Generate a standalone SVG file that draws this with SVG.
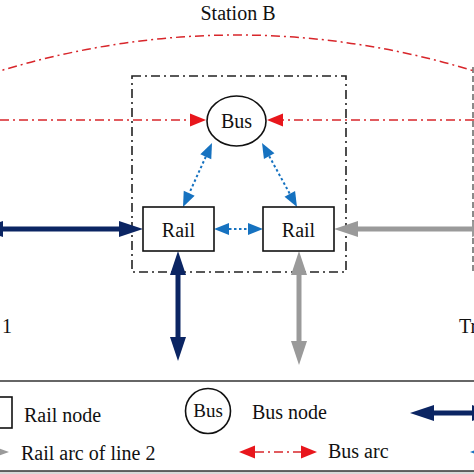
<svg xmlns="http://www.w3.org/2000/svg" width="474" height="474" viewBox="0 0 474 474">
<defs>
<style>
.node{fill:#fff;stroke:#111;stroke-width:1.6}
.navy{stroke:#0b2563;stroke-width:5;fill:none}
.gray{stroke:#9a9a9a;stroke-width:5;fill:none}
.blue{stroke:#1672c0;stroke-width:2;stroke-dasharray:2.5,2.5;fill:none}
.red{stroke:#d8262b;stroke-width:1.5;stroke-dasharray:9,4,2,4;fill:none}
.box{stroke:#222;stroke-width:1.6;stroke-dasharray:9,4,2,4;fill:none}
</style>
<marker id="mNavy" markerUnits="userSpaceOnUse" markerWidth="26" markerHeight="18" refX="0" refY="8" orient="auto-start-reverse" overflow="visible"><path d="M0,0 L24,8 L0,16 Z" fill="#0b2563"/></marker>
<marker id="mGray" markerUnits="userSpaceOnUse" markerWidth="26" markerHeight="18" refX="0" refY="8" orient="auto-start-reverse" overflow="visible"><path d="M0,0 L24,8 L0,16 Z" fill="#9a9a9a"/></marker>
<marker id="mBlue" markerUnits="userSpaceOnUse" markerWidth="16" markerHeight="12" refX="0" refY="6" orient="auto-start-reverse" overflow="visible"><path d="M0,0 L15,6 L0,12 Z" fill="#1672c0"/></marker>
<marker id="mRed" markerUnits="userSpaceOnUse" markerWidth="17" markerHeight="13" refX="0" refY="6.5" orient="auto-start-reverse" overflow="visible"><path d="M0,0 L16,6.5 L0,13 Z" fill="#e8161c"/></marker>
</defs>
<rect width="474" height="474" fill="#fff"/>
<g font-family="'Liberation Serif', 'Times New Roman', 'DejaVu Serif', serif" font-size="20" fill="#111">
<text x="238" y="19.5" text-anchor="middle">Station B</text>
<g id="station-box"><rect class="box" x="132" y="76" width="214" height="196"/></g>
<line x1="473" y1="67" x2="473" y2="273" stroke="#8a8a8a" stroke-width="2" stroke-dasharray="6,3"/>
<g id="connectors">
<path class="red" d="M-10,74 Q237,-4 484,74"/>
<line class="red" x1="0" y1="120" x2="190" y2="120" marker-end="url(#mRed)"/>
<line class="red" x1="474" y1="120" x2="283" y2="120" marker-end="url(#mRed)"/>
<line class="blue" x1="205.8" y1="156.7" x2="189.2" y2="193.3" marker-start="url(#mBlue)" marker-end="url(#mBlue)"/>
<line class="blue" x1="269.2" y1="156.2" x2="289.8" y2="193.8" marker-start="url(#mBlue)" marker-end="url(#mBlue)"/>
<line class="blue" x1="229" y1="229" x2="248" y2="229" marker-start="url(#mBlue)" marker-end="url(#mBlue)"/>
<line class="navy" x1="3" y1="229" x2="119" y2="229" marker-start="url(#mNavy)" marker-end="url(#mNavy)"/>
<line class="navy" x1="178" y1="275" x2="178" y2="337" marker-start="url(#mNavy)" marker-end="url(#mNavy)"/>
<line class="gray" x1="358" y1="229" x2="472" y2="229" marker-start="url(#mGray)" marker-end="url(#mGray)"/>
<line class="gray" x1="299" y1="275" x2="299" y2="341" marker-start="url(#mGray)" marker-end="url(#mGray)"/>
</g>
<g id="bus"><ellipse class="node" cx="236.5" cy="121" rx="29.5" ry="25"/><text x="236.5" y="128" text-anchor="middle">Bus</text></g>
<g id="rail-1"><rect class="node" x="143" y="207" width="71" height="44"/><text x="178.5" y="237" text-anchor="middle">Rail</text></g>
<g id="rail-2"><rect class="node" x="263" y="207" width="71" height="44"/><text x="298.5" y="237" text-anchor="middle">Rail</text></g>
<text x="2" y="333">1</text>
<text x="459" y="333">Tr</text>
<g id="legend">
<line x1="0" y1="381" x2="474" y2="381" stroke="#333" stroke-width="1.5"/>
<rect x="0" y="471" width="474" height="3" fill="#d9d9d9"/>
<line x1="0" y1="471" x2="474" y2="471" stroke="#333" stroke-width="1.5"/>
<rect class="node" x="-20" y="397" width="32" height="31"/>
<text x="24" y="421.5">Rail node</text>
<circle class="node" cx="208" cy="411" r="22.5"/>
<text x="208" y="417" text-anchor="middle" font-size="19">Bus</text>
<text x="252" y="419">Bus node</text>
<line class="navy" x1="434" y1="413" x2="472" y2="413" marker-start="url(#mNavy)" marker-end="url(#mNavy)"/>
<polygon points="-14,444 9,452 -14,460" fill="#9a9a9a"/>
<text x="21" y="460">Rail arc of line 2</text>
<line class="red" x1="255" y1="452" x2="301" y2="452" marker-start="url(#mRed)" marker-end="url(#mRed)"/>
<text x="328" y="458">Bus arc</text>
<polygon points="470,452 485,446 485,458" fill="#1672c0"/>
</g>
</g>
</svg>
